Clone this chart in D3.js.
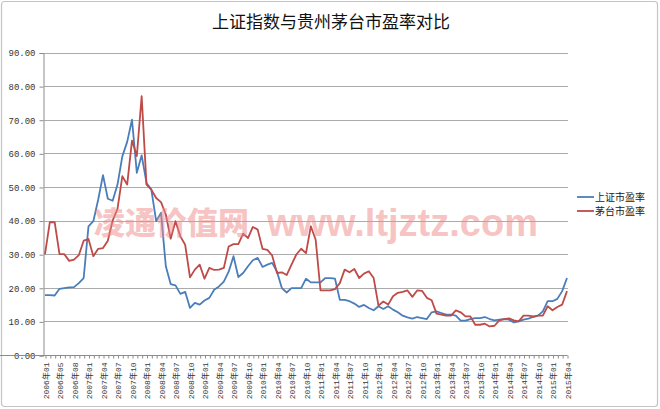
<!DOCTYPE html>
<html><head><meta charset="utf-8">
<script src="https://cdn.jsdelivr.net/npm/d3@7"></script>
<style>body{margin:0;background:#fff}svg{display:block}</style>
</head><body>
<script>
// categories
const months2006 = ["2006年01","2006年02","2006年04","2006年05","2006年06","2006年07","2006年08","2006年10","2006年12"];
const categories = months2006.slice();
for (let y = 2007; y <= 2015; y++) {
  for (let m = 1; m <= 12; m++) {
    if (y === 2015 && m > 4) break;
    categories.push(y + "年" + String(m).padStart(2, "0"));
  }
}
const seriesNames = ["上证市盈率", "茅台市盈率"];
const shanghaiPE = [
  17.8,17.8,17.7,19.7,19.9,20.1,20.2,21.4,22.9,38.3,39.8,46.2,53.5,46.5,45.9,50.7,59.1,63.4,70,54.2,59.4,51.2,49.2,39.8,42.3,26.4,21.1,20.7,18.2,18.8,14,15.5,15,16.2,17,19.4,
  20.4,21.8,24.8,29.4,23.2,24.4,26.4,28.2,28.9,26.2,26.9,27.4,24.8,19.9,18.6,19.9,19.9,19.9,22.7,21.6,21.6,21.6,22.9,22.9,22.7,16.4,16.4,16,15.3,14.3,14.9,14,13.3,14.5,13.7,14.5,13.5,
  12.7,11.7,11.2,10.8,11.3,11,10.7,12.7,13,12.5,12,12,11.7,10.2,10.2,10.7,11,11,11.3,10.7,10.3,10.5,10.7,10.5,9.7,10,10.5,10.8,11.3,11.7,13,16,16,16.7,19,22.9
];
const maotaiPE = [
  30,39.5,39.5,30,30,28,28.4,29.7,34,34.5,29.4,31.6,31.8,34,40,43.5,53.2,50.7,63.8,59.2,77,50.7,49.2,46.7,45.5,41.8,34.6,39.8,35.3,32.8,23.1,25.4,26.9,22.7,25.9,25.3,
  25.4,25.9,32.3,33,33,36.1,34.8,38.1,37.3,31.6,31.3,29.6,24.4,24.6,23.8,26.9,29.9,31.6,30.3,38.3,34.3,19.2,19.2,19.2,19.6,21.4,25.4,24.6,25.6,22.9,24.2,24.9,22.9,14.7,15.9,15,17.5,
  18.5,18.8,19.2,17.3,19.2,19.1,17,16.3,12.3,12,11.7,11.7,13.3,12.7,11.5,11.5,9,9,9.3,8.5,8.7,10.3,10.7,10.9,10.3,10,11.7,11.7,11.5,11.7,11.7,14.5,13.3,14.3,15,19
];
const yTicks = [0,10,20,30,40,50,60,70,80,90];
const titleText = "上证指数与贵州茅台市盈率对比";
const watermarkCN = "凌通价值网";
const watermarkEN = "www.ltjztz.com";

const W = 660, H = 409;
const svg = d3.select("body").append("svg").attr("width", W).attr("height", H);
svg.append("rect").attr("x",1.5).attr("y",1.5).attr("width",W-4).attr("height",H-4)
  .attr("rx",3).attr("fill","#fff").attr("stroke","#c4c4c4").attr("stroke-width",1.2);

const x = d3.scalePoint().domain(categories).range([45, 567]);
const y = d3.scaleLinear().domain([0, 90]).range([355, 52.5]);

// gridlines
svg.append("g").selectAll("line").data(yTicks.filter(d => d > 0)).join("line")
  .attr("x1", 44).attr("x2", 568)
  .attr("y1", d => Math.round(y(d)) + 0.5).attr("y2", d => Math.round(y(d)) + 0.5)
  .attr("stroke", "#ababab").attr("stroke-width", 1);

// y axis
const yAxis = d3.axisLeft(y).tickValues(yTicks).tickFormat(d3.format(".2f")).tickSize(4).tickPadding(4);
const gy = svg.append("g").attr("transform", "translate(43.5,0.5)").call(yAxis);
gy.select(".domain").attr("stroke", "#8c8c8c");
gy.selectAll(".tick line").attr("stroke", "#8c8c8c");
gy.selectAll("text").attr("font-family", "Liberation Mono, monospace").attr("font-size", 9).attr("fill", "#333");

// x axis
const xAxis = d3.axisBottom(x).tickSize(3).tickPadding(3)
  .tickFormat((d, i) => i % 3 === 0 ? d : "");
const gx = svg.append("g").attr("transform", "translate(0.5,355.5)").call(xAxis);
gx.select(".domain").attr("stroke", "#8c8c8c").attr("d", "M-1.5,0H567");
gx.selectAll(".tick line").attr("stroke", "#8c8c8c");
gx.selectAll("text")
  .attr("font-family", "Liberation Mono, Noto Sans CJK SC, monospace").attr("font-size", 8).attr("fill", "#333")
  .attr("text-anchor", "end").attr("dy", "0.35em")
  .attr("transform", "translate(0,6) rotate(-90)").attr("x", -1).attr("y", 0);

// lines
const line = d3.line().x((d, i) => x(categories[i])).y(d => y(d));
svg.append("path").datum(shanghaiPE).attr("d", line).attr("fill", "none")
  .attr("stroke", "#4a7ebb").attr("stroke-width", 1.8).attr("stroke-linejoin", "round");
svg.append("path").datum(maotaiPE).attr("d", line).attr("fill", "none")
  .attr("stroke", "#be4b48").attr("stroke-width", 1.8).attr("stroke-linejoin", "round");

// watermark
const wm = svg.append("text").attr("x", 94).attr("y", 236)
  .attr("font-family", "Liberation Sans, Noto Sans CJK SC, sans-serif").attr("font-weight", "bold")
  .attr("fill", "#f08a8a").attr("fill-opacity", 0.5);
wm.append("tspan").attr("font-family", "Noto Sans CJK SC").attr("font-weight", 900).attr("font-size", 31).attr("dy", -2).text(watermarkCN);
wm.append("tspan").attr("font-size", 38).attr("dx", 18).attr("dy", 2).text(watermarkEN);

// title
svg.append("text").attr("x", 331).attr("y", 28).attr("text-anchor", "middle")
  .attr("font-family", "Noto Sans CJK SC").attr("font-size", 17).attr("fill", "#111").text(titleText);

// legend
const colors = ["#4a7ebb", "#be4b48"];
const lg = svg.append("g").selectAll("g").data(seriesNames).join("g")
  .attr("transform", (d, i) => `translate(577,${197 + i * 14})`);
lg.append("line").attr("x1", 0).attr("x2", 17).attr("y1", 0).attr("y2", 0)
  .attr("stroke", (d, i) => colors[i]).attr("stroke-width", 1.8);
lg.append("text").attr("x", 18).attr("y", 0).attr("dy", "0.35em")
  .attr("font-family", "Noto Sans CJK SC").attr("font-size", 10).attr("fill", "#222").text(d => d);
</script>
</body></html>
